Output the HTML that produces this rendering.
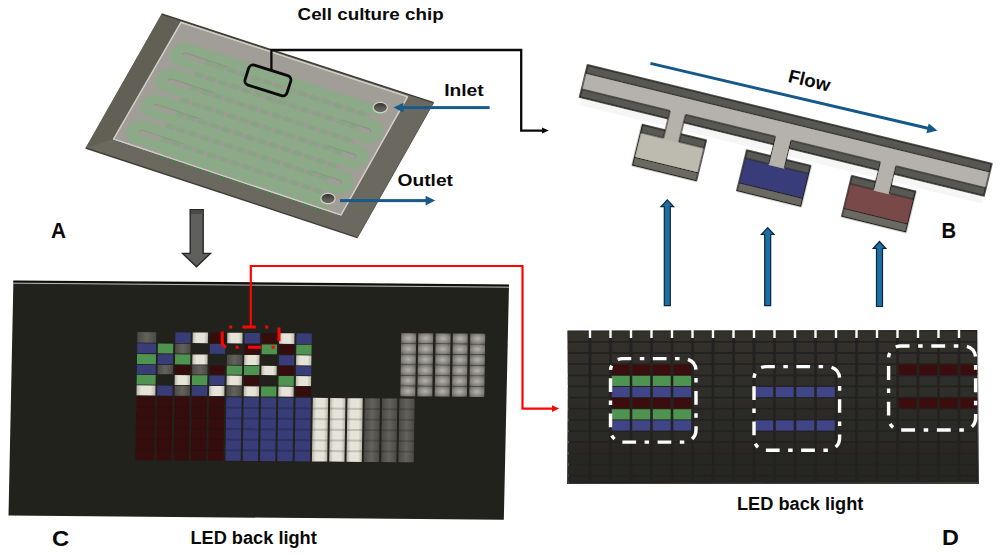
<!DOCTYPE html>
<html><head><meta charset="utf-8"><title>Figure</title>
<style>
html,body{margin:0;padding:0;background:#fff;}
body{width:1000px;height:555px;overflow:hidden;font-family:"Liberation Sans",sans-serif;}
svg{display:block}
text{font-family:"Liberation Sans",sans-serif;font-weight:bold;fill:#0a0a0a}
</style></head><body>
<svg width="1000" height="555" viewBox="0 0 1000 555">
<defs>
<filter id="soft" x="-5%" y="-5%" width="110%" height="110%"><feGaussianBlur stdDeviation="0.45"/></filter>
<filter id="soft2" x="-5%" y="-5%" width="110%" height="110%"><feGaussianBlur stdDeviation="0.7"/></filter>
<linearGradient id="gw" x1="0" y1="0" x2="1" y2="0"><stop offset="0" stop-color="#b9b6aa"/><stop offset="0.25" stop-color="#e6e3d8"/><stop offset="0.75" stop-color="#e6e3d8"/><stop offset="1" stop-color="#b9b6aa"/></linearGradient>
<linearGradient id="gg" x1="0" y1="0" x2="1" y2="0"><stop offset="0" stop-color="#4b4a46"/><stop offset="0.5" stop-color="#63625d"/><stop offset="1" stop-color="#4b4a46"/></linearGradient>
<radialGradient id="gs" cx="0.5" cy="0.5" r="0.75"><stop offset="0" stop-color="#b6b4ab"/><stop offset="0.55" stop-color="#86847e"/><stop offset="1" stop-color="#504f4b"/></radialGradient>
<linearGradient id="hole" x1="0" y1="0" x2="0" y2="1"><stop offset="0" stop-color="#2f2f2d"/><stop offset="0.45" stop-color="#55544f"/><stop offset="1" stop-color="#6b6a65"/></linearGradient>
<linearGradient id="dfade" x1="0" y1="0" x2="0" y2="1"><stop offset="0" stop-color="#242321" stop-opacity="0"/><stop offset="0.35" stop-color="#242321" stop-opacity="0.15"/><stop offset="0.75" stop-color="#242321" stop-opacity="0.6"/><stop offset="1" stop-color="#242321" stop-opacity="0.9"/></linearGradient>
</defs>
<rect width="1000" height="555" fill="#ffffff"/>

<g id="panelA" filter="url(#soft)">
<polygon points="161.6,14 433.6,102.6 357.4,237.6 85.6,148" fill="#6b685f"/>
<polygon points="161.6,14 181,22.4 113.6,139 85.6,148" fill="#625f55"/>
<polyline points="161.6,14 433.6,102.6" fill="none" stroke="#3e3c36" stroke-width="1.4"/>
<polyline points="85.6,148 357.4,237.6" fill="none" stroke="#403e38" stroke-width="1.4"/>
<polyline points="357.4,237.6 433.6,102.6" fill="none" stroke="#55524a" stroke-width="1"/>
<polygon points="181,22.4 407.6,96.6 341,215 113.6,139" fill="#a19d97" stroke="#d0cdc6" stroke-width="1.2" stroke-linejoin="round"/>
<g transform="matrix(0.9510 0.3143 -0.4952 0.8684 181 22.4)">
<path d="M 219 23.00 L 18.50 23.00 A 7.40 7.40 0 0 0 18.50 37.80 L 222.00 37.80 A 7.40 7.40 0 0 1 222.00 52.60 L 18.50 52.60 A 7.40 7.40 0 0 0 18.50 67.40 L 222.00 67.40 A 7.40 7.40 0 0 1 222.00 82.20 L 18.50 82.20 A 7.40 7.40 0 0 0 18.50 97.00 L 222.00 97.00 A 7.40 7.40 0 0 1 222.00 111.80 L 18.50 111.80 A 7.40 7.40 0 0 0 18.50 126.60 L 219.00 126.60 " fill="none" stroke="#8caa88" stroke-width="10.6" stroke-linecap="round" stroke-linejoin="round"/>
<line x1="40.50" y1="30.40" x2="214.00" y2="30.40" stroke="#a19897" stroke-width="3.2"/>
<line x1="40.50" y1="30.40" x2="214.00" y2="30.40" stroke="#87a583" stroke-width="5" stroke-dasharray="8.4 4"/>
<line x1="20.00" y1="30.40" x2="40.50" y2="30.40" stroke="#a39a99" stroke-width="3.6" stroke-linecap="round"/>
<path d="M 17.90 30.90 A 2.4 2.4 0 0 1 20.50 28.10 L 64.50 28.10" fill="none" stroke="#7f9c7a" stroke-width="1"/>
<line x1="38.50" y1="45.20" x2="210.00" y2="45.20" stroke="#a19897" stroke-width="3.2"/>
<line x1="38.50" y1="45.20" x2="210.00" y2="45.20" stroke="#87a583" stroke-width="5" stroke-dasharray="8.4 4"/>
<line x1="210.00" y1="45.20" x2="220.50" y2="45.20" stroke="#a39a99" stroke-width="3.6" stroke-linecap="round"/>
<path d="M 222.60 45.70 A 2.4 2.4 0 0 0 220.00 42.90 L 192.00 42.90" fill="none" stroke="#7f9c7a" stroke-width="1"/>
<line x1="40.50" y1="60.00" x2="214.00" y2="60.00" stroke="#a19897" stroke-width="3.2"/>
<line x1="40.50" y1="60.00" x2="214.00" y2="60.00" stroke="#87a583" stroke-width="5" stroke-dasharray="8.4 4"/>
<line x1="20.00" y1="60.00" x2="40.50" y2="60.00" stroke="#a39a99" stroke-width="3.6" stroke-linecap="round"/>
<path d="M 17.90 60.50 A 2.4 2.4 0 0 1 20.50 57.70 L 64.50 57.70" fill="none" stroke="#7f9c7a" stroke-width="1"/>
<line x1="38.50" y1="74.80" x2="210.00" y2="74.80" stroke="#a19897" stroke-width="3.2"/>
<line x1="38.50" y1="74.80" x2="210.00" y2="74.80" stroke="#87a583" stroke-width="5" stroke-dasharray="8.4 4"/>
<line x1="210.00" y1="74.80" x2="220.50" y2="74.80" stroke="#a39a99" stroke-width="3.6" stroke-linecap="round"/>
<path d="M 222.60 75.30 A 2.4 2.4 0 0 0 220.00 72.50 L 192.00 72.50" fill="none" stroke="#7f9c7a" stroke-width="1"/>
<line x1="40.50" y1="89.60" x2="214.00" y2="89.60" stroke="#a19897" stroke-width="3.2"/>
<line x1="40.50" y1="89.60" x2="214.00" y2="89.60" stroke="#87a583" stroke-width="5" stroke-dasharray="8.4 4"/>
<line x1="20.00" y1="89.60" x2="40.50" y2="89.60" stroke="#a39a99" stroke-width="3.6" stroke-linecap="round"/>
<path d="M 17.90 90.10 A 2.4 2.4 0 0 1 20.50 87.30 L 64.50 87.30" fill="none" stroke="#7f9c7a" stroke-width="1"/>
<line x1="38.50" y1="104.40" x2="210.00" y2="104.40" stroke="#a19897" stroke-width="3.2"/>
<line x1="38.50" y1="104.40" x2="210.00" y2="104.40" stroke="#87a583" stroke-width="5" stroke-dasharray="8.4 4"/>
<line x1="210.00" y1="104.40" x2="220.50" y2="104.40" stroke="#a39a99" stroke-width="3.6" stroke-linecap="round"/>
<path d="M 222.60 104.90 A 2.4 2.4 0 0 0 220.00 102.10 L 192.00 102.10" fill="none" stroke="#7f9c7a" stroke-width="1"/>
<line x1="40.50" y1="119.20" x2="214.00" y2="119.20" stroke="#a19897" stroke-width="3.2"/>
<line x1="40.50" y1="119.20" x2="214.00" y2="119.20" stroke="#87a583" stroke-width="5" stroke-dasharray="8.4 4"/>
<line x1="20.00" y1="119.20" x2="40.50" y2="119.20" stroke="#a39a99" stroke-width="3.6" stroke-linecap="round"/>
<path d="M 17.90 119.70 A 2.4 2.4 0 0 1 20.50 116.90 L 64.50 116.90" fill="none" stroke="#7f9c7a" stroke-width="1"/>
<path d="M 40 126.60 L 224 126.60 L 224 135.0 L 52 135.0 Z" fill="#8caa88"/>
<line x1="56" y1="133.4" x2="222" y2="133.4" stroke="#a39a99" stroke-width="2.2" stroke-dasharray="4.2 8.2"/>
<line x1="50" y1="137.2" x2="226" y2="137.2" stroke="#3f8748" stroke-width="1.7" stroke-dasharray="5.4 7"/>
</g>
<polygon points="181,22.4 407.6,96.6 341,215 113.6,139" fill="none" stroke="#d0cdc6" stroke-width="1.2" stroke-linejoin="round"/>
<ellipse cx="380.3" cy="107.7" rx="7.7" ry="5.9" fill="#d3d0c9"/>
<ellipse cx="380.3" cy="107.6" rx="6.5" ry="4.6" fill="url(#hole)"/>
<ellipse cx="328.0" cy="198.7" rx="7.7" ry="5.9" fill="#d3d0c9"/>
<ellipse cx="328.0" cy="198.6" rx="6.5" ry="4.6" fill="url(#hole)"/>
</g>
<g fill="none" stroke="#0a0a0a" stroke-width="2.3">
<rect x="-22" y="-10.5" width="44" height="21" rx="4.5" transform="translate(267.9 80.4) rotate(17.6)" stroke-width="2.8"/>
<polyline points="271.4,70 271.4,50 521.2,50 521.2,130.6 543,130.6"/>
</g>
<polygon points="542,127.6 548.8,130.6 542,133.6" fill="#0a0a0a"/>
<g fill="#185a89" stroke="none">
<rect x="402" y="106.1" width="87.6" height="3"/>
<polygon points="393.6,107.6 403.5,102.8 403.5,112.4"/>
<rect x="340" y="199.1" width="87" height="3"/>
<polygon points="435.2,200.6 425.6,195.8 425.6,205.4"/>
</g>
<g filter="url(#soft)">
<polygon points="190.2,209.8 203.2,209.8 203.2,253.4 210.4,253.4 196.5,266.8 182.6,253.4 190.2,253.4" fill="#5f5f5c" stroke="#262626" stroke-width="1.4"/>
<rect x="190.9" y="210.5" width="11.6" height="3.6" fill="#4a4a48"/>
</g>
<text x="297.6" y="20.3" font-size="17" textLength="146" lengthAdjust="spacingAndGlyphs">Cell culture chip</text>
<text x="444.2" y="96" font-size="17" textLength="39.5" lengthAdjust="spacingAndGlyphs">Inlet</text>
<text x="397.6" y="186" font-size="17" textLength="55.4" lengthAdjust="spacingAndGlyphs">Outlet</text>
<text x="51" y="238" font-size="22" textLength="15" lengthAdjust="spacingAndGlyphs">A</text>
<g id="panelB" filter="url(#soft)" transform="translate(587.6 65) rotate(13.74)">
<rect x="2" y="33" width="414" height="8" fill="#f6f6f6" filter="url(#soft2)"/>
<rect x="0" y="0" width="416" height="33" fill="#595853" stroke="#1e1d19" stroke-width="1.5"/>
<rect x="0.6" y="8.3" width="414.8" height="16.6" fill="#b4b2ab"/>
<line x1="0" y1="8.3" x2="416" y2="8.3" stroke="#1e1d19" stroke-width="1"/>
<rect x="67.5" y="45" width="65.5" height="41.5" fill="#595853" stroke="#1e1d19" stroke-width="1.5"/>
<rect x="68.1" y="53" width="64.3" height="25.5" fill="#bdbbb0"/>
<rect x="68.1" y="78.5" width="64.3" height="7.4" fill="#6b6962"/>
<line x1="67.5" y1="78.5" x2="133.0" y2="78.5" stroke="#1e1d19" stroke-width="1.2"/>
<line x1="67.5" y1="53" x2="133.0" y2="53" stroke="#1e1d19" stroke-width="0.8"/>
<rect x="91.0" y="24" width="16" height="30" fill="#b4b2ab"/>
<line x1="91.0" y1="25" x2="91.0" y2="53" stroke="#1e1d19" stroke-width="1"/>
<line x1="107.0" y1="25" x2="107.0" y2="53" stroke="#1e1d19" stroke-width="1"/>
<rect x="175.0" y="45" width="65.5" height="41.5" fill="#595853" stroke="#1e1d19" stroke-width="1.5"/>
<rect x="175.6" y="53" width="64.3" height="25.5" fill="#393c79"/>
<rect x="175.6" y="78.5" width="64.3" height="7.4" fill="#6b6962"/>
<line x1="175.0" y1="78.5" x2="240.5" y2="78.5" stroke="#1e1d19" stroke-width="1.2"/>
<line x1="175.0" y1="53" x2="240.5" y2="53" stroke="#1e1d19" stroke-width="0.8"/>
<rect x="199.5" y="24" width="16" height="30" fill="#b4b2ab"/>
<line x1="199.5" y1="25" x2="199.5" y2="53" stroke="#1e1d19" stroke-width="1"/>
<line x1="215.5" y1="25" x2="215.5" y2="53" stroke="#1e1d19" stroke-width="1"/>
<rect x="283.0" y="45" width="65.5" height="41.5" fill="#595853" stroke="#1e1d19" stroke-width="1.5"/>
<rect x="283.6" y="53" width="64.3" height="25.5" fill="#794848"/>
<rect x="283.6" y="78.5" width="64.3" height="7.4" fill="#6b6962"/>
<line x1="283.0" y1="78.5" x2="348.5" y2="78.5" stroke="#1e1d19" stroke-width="1.2"/>
<line x1="283.0" y1="53" x2="348.5" y2="53" stroke="#1e1d19" stroke-width="0.8"/>
<rect x="307.5" y="24" width="16" height="30" fill="#b4b2ab"/>
<line x1="307.5" y1="25" x2="307.5" y2="53" stroke="#1e1d19" stroke-width="1"/>
<line x1="323.5" y1="25" x2="323.5" y2="53" stroke="#1e1d19" stroke-width="1"/>
<line x1="0.0" y1="24.9" x2="91.0" y2="24.9" stroke="#1e1d19" stroke-width="1"/>
<line x1="107.0" y1="24.9" x2="199.5" y2="24.9" stroke="#1e1d19" stroke-width="1"/>
<line x1="215.5" y1="24.9" x2="307.5" y2="24.9" stroke="#1e1d19" stroke-width="1"/>
<line x1="323.5" y1="24.9" x2="416.0" y2="24.9" stroke="#1e1d19" stroke-width="1"/>
</g>
<g fill="#14598a">
<line x1="650.4" y1="63.4" x2="929" y2="128.5" stroke="#14598a" stroke-width="3"/>
<polygon points="937.4,130.5 926.4,133.2 928.7,123.4"/>
</g>
<text transform="translate(787.2 81.7) rotate(13.5)" font-size="18.5" textLength="42.5" lengthAdjust="spacingAndGlyphs">Flow</text>
<text x="941.5" y="238" font-size="22" textLength="14.6" lengthAdjust="spacingAndGlyphs">B</text>
<polygon points="667.3,199.9 673.6,206.7 670.3,206.7 670.3,305.7 664.3,305.7 664.3,206.7 661.0,206.7" fill="#1c6fa5" stroke="#0e2538" stroke-width="1.2" stroke-linejoin="miter"/>
<polygon points="767.7,227.7 774.0,234.5 770.7,234.5 770.7,305.7 764.7,305.7 764.7,234.5 761.4,234.5" fill="#1c6fa5" stroke="#0e2538" stroke-width="1.2" stroke-linejoin="miter"/>
<polygon points="879.5,241.5 885.8,248.3 882.5,248.3 882.5,306.5 876.5,306.5 876.5,248.3 873.2,248.3" fill="#1c6fa5" stroke="#0e2538" stroke-width="1.2" stroke-linejoin="miter"/>
<g id="panelC" filter="url(#soft)">
<polygon points="13.4,281 509,285 503.8,519.8 8.5,515.5" fill="#22201d"/>
<polyline points="13.4,281.2 509,285.2" fill="none" stroke="#0c0c0b" stroke-width="1.6"/>
<polyline points="13.6,283.2 509,287.2" fill="none" stroke="#b9b8b4" stroke-width="1"/>
<g transform="matrix(1 0.0085 -0.015 1 5.2 -1.2)">
<rect x="137.2" y="332.0" width="18.9" height="10.6" fill="url(#gg)"/>
<rect x="175.2" y="332.0" width="15.3" height="10.6" fill="#373c78"/>
<rect x="192.5" y="332.0" width="15.3" height="10.6" fill="url(#gw)"/>
<rect x="209.8" y="332.0" width="15.3" height="10.6" fill="#360e0f"/>
<rect x="227.1" y="332.0" width="15.3" height="10.6" fill="url(#gw)"/>
<rect x="244.4" y="332.0" width="15.3" height="10.6" fill="#373c78"/>
<rect x="261.7" y="332.0" width="15.3" height="10.6" fill="#360e0f"/>
<rect x="279.0" y="332.0" width="15.3" height="10.6" fill="url(#gw)"/>
<rect x="296.3" y="332.0" width="15.3" height="10.6" fill="#373c78"/>
<rect x="137.2" y="343.4" width="18.9" height="9.8" fill="#373c78"/>
<rect x="157.9" y="343.4" width="15.3" height="9.8" fill="#4f9351"/>
<rect x="175.2" y="343.4" width="15.3" height="9.8" fill="url(#gg)"/>
<rect x="209.8" y="343.4" width="15.3" height="9.8" fill="#373c78"/>
<rect x="244.4" y="343.4" width="15.3" height="9.8" fill="#360e0f"/>
<rect x="261.7" y="343.4" width="15.3" height="9.8" fill="#4f9351"/>
<rect x="279.0" y="343.4" width="15.3" height="9.8" fill="#360e0f"/>
<rect x="296.3" y="343.4" width="15.3" height="9.8" fill="#4f9351"/>
<rect x="137.2" y="354.0" width="18.9" height="10.0" fill="#4f9351"/>
<rect x="157.9" y="354.0" width="15.3" height="10.0" fill="#373c78"/>
<rect x="175.2" y="354.0" width="15.3" height="10.0" fill="#4f9351"/>
<rect x="192.5" y="354.0" width="15.3" height="10.0" fill="url(#gw)"/>
<rect x="227.1" y="354.0" width="15.3" height="10.0" fill="url(#gg)"/>
<rect x="244.4" y="354.0" width="15.3" height="10.0" fill="url(#gw)"/>
<rect x="279.0" y="354.0" width="15.3" height="10.0" fill="#373c78"/>
<rect x="296.3" y="354.0" width="15.3" height="10.0" fill="url(#gw)"/>
<rect x="137.2" y="364.8" width="18.9" height="9.2" fill="#373c78"/>
<rect x="157.9" y="364.8" width="15.3" height="9.2" fill="url(#gg)"/>
<rect x="175.2" y="364.8" width="15.3" height="9.2" fill="#360e0f"/>
<rect x="192.5" y="364.8" width="15.3" height="9.2" fill="url(#gg)"/>
<rect x="209.8" y="364.8" width="15.3" height="9.2" fill="#360e0f"/>
<rect x="227.1" y="364.8" width="15.3" height="9.2" fill="#4f9351"/>
<rect x="244.4" y="364.8" width="15.3" height="9.2" fill="#4f9351"/>
<rect x="261.7" y="364.8" width="15.3" height="9.2" fill="url(#gw)"/>
<rect x="279.0" y="364.8" width="15.3" height="9.2" fill="#360e0f"/>
<rect x="296.3" y="364.8" width="15.3" height="9.2" fill="#373c78"/>
<rect x="137.2" y="374.8" width="18.9" height="9.8" fill="#4f9351"/>
<rect x="175.2" y="374.8" width="15.3" height="9.8" fill="url(#gw)"/>
<rect x="192.5" y="374.8" width="15.3" height="9.8" fill="#4f9351"/>
<rect x="209.8" y="374.8" width="15.3" height="9.8" fill="#373c78"/>
<rect x="227.1" y="374.8" width="15.3" height="9.8" fill="url(#gw)"/>
<rect x="244.4" y="374.8" width="15.3" height="9.8" fill="#360e0f"/>
<rect x="279.0" y="374.8" width="15.3" height="9.8" fill="#4f9351"/>
<rect x="296.3" y="374.8" width="15.3" height="9.8" fill="url(#gw)"/>
<rect x="137.2" y="385.4" width="18.9" height="10.0" fill="url(#gw)"/>
<rect x="157.9" y="385.4" width="15.3" height="10.0" fill="#373c78"/>
<rect x="175.2" y="385.4" width="15.3" height="10.0" fill="url(#gg)"/>
<rect x="192.5" y="385.4" width="15.3" height="10.0" fill="#373c78"/>
<rect x="209.8" y="385.4" width="15.3" height="10.0" fill="url(#gw)"/>
<rect x="227.1" y="385.4" width="15.3" height="10.0" fill="url(#gg)"/>
<rect x="244.4" y="385.4" width="15.3" height="10.0" fill="url(#gw)"/>
<rect x="261.7" y="385.4" width="15.3" height="10.0" fill="#4f9351"/>
<rect x="279.0" y="385.4" width="15.3" height="10.0" fill="url(#gw)"/>
<rect x="296.3" y="385.4" width="15.3" height="10.0" fill="#360e0f"/>
<rect x="137.2" y="396.4" width="18.9" height="63.6" fill="#360e0f"/>
<line x1="137.2" y1="407.0" x2="156.1" y2="407.0" stroke="#000" stroke-opacity="0.16" stroke-width="2"/>
<line x1="137.2" y1="417.6" x2="156.1" y2="417.6" stroke="#000" stroke-opacity="0.16" stroke-width="2"/>
<line x1="137.2" y1="428.2" x2="156.1" y2="428.2" stroke="#000" stroke-opacity="0.16" stroke-width="2"/>
<line x1="137.2" y1="438.8" x2="156.1" y2="438.8" stroke="#000" stroke-opacity="0.16" stroke-width="2"/>
<line x1="137.2" y1="449.4" x2="156.1" y2="449.4" stroke="#000" stroke-opacity="0.16" stroke-width="2"/>
<rect x="157.9" y="396.4" width="15.3" height="63.6" fill="#360e0f"/>
<line x1="157.9" y1="407.0" x2="173.2" y2="407.0" stroke="#000" stroke-opacity="0.16" stroke-width="2"/>
<line x1="157.9" y1="417.6" x2="173.2" y2="417.6" stroke="#000" stroke-opacity="0.16" stroke-width="2"/>
<line x1="157.9" y1="428.2" x2="173.2" y2="428.2" stroke="#000" stroke-opacity="0.16" stroke-width="2"/>
<line x1="157.9" y1="438.8" x2="173.2" y2="438.8" stroke="#000" stroke-opacity="0.16" stroke-width="2"/>
<line x1="157.9" y1="449.4" x2="173.2" y2="449.4" stroke="#000" stroke-opacity="0.16" stroke-width="2"/>
<rect x="175.2" y="396.4" width="15.3" height="63.6" fill="#360e0f"/>
<line x1="175.2" y1="407.0" x2="190.5" y2="407.0" stroke="#000" stroke-opacity="0.16" stroke-width="2"/>
<line x1="175.2" y1="417.6" x2="190.5" y2="417.6" stroke="#000" stroke-opacity="0.16" stroke-width="2"/>
<line x1="175.2" y1="428.2" x2="190.5" y2="428.2" stroke="#000" stroke-opacity="0.16" stroke-width="2"/>
<line x1="175.2" y1="438.8" x2="190.5" y2="438.8" stroke="#000" stroke-opacity="0.16" stroke-width="2"/>
<line x1="175.2" y1="449.4" x2="190.5" y2="449.4" stroke="#000" stroke-opacity="0.16" stroke-width="2"/>
<rect x="192.5" y="396.4" width="15.3" height="63.6" fill="#360e0f"/>
<line x1="192.5" y1="407.0" x2="207.8" y2="407.0" stroke="#000" stroke-opacity="0.16" stroke-width="2"/>
<line x1="192.5" y1="417.6" x2="207.8" y2="417.6" stroke="#000" stroke-opacity="0.16" stroke-width="2"/>
<line x1="192.5" y1="428.2" x2="207.8" y2="428.2" stroke="#000" stroke-opacity="0.16" stroke-width="2"/>
<line x1="192.5" y1="438.8" x2="207.8" y2="438.8" stroke="#000" stroke-opacity="0.16" stroke-width="2"/>
<line x1="192.5" y1="449.4" x2="207.8" y2="449.4" stroke="#000" stroke-opacity="0.16" stroke-width="2"/>
<rect x="209.8" y="396.4" width="15.3" height="63.6" fill="#360e0f"/>
<line x1="209.8" y1="407.0" x2="225.1" y2="407.0" stroke="#000" stroke-opacity="0.16" stroke-width="2"/>
<line x1="209.8" y1="417.6" x2="225.1" y2="417.6" stroke="#000" stroke-opacity="0.16" stroke-width="2"/>
<line x1="209.8" y1="428.2" x2="225.1" y2="428.2" stroke="#000" stroke-opacity="0.16" stroke-width="2"/>
<line x1="209.8" y1="438.8" x2="225.1" y2="438.8" stroke="#000" stroke-opacity="0.16" stroke-width="2"/>
<line x1="209.8" y1="449.4" x2="225.1" y2="449.4" stroke="#000" stroke-opacity="0.16" stroke-width="2"/>
<rect x="227.1" y="396.4" width="15.3" height="63.6" fill="#373c78"/>
<line x1="227.1" y1="407.0" x2="242.4" y2="407.0" stroke="#000" stroke-opacity="0.16" stroke-width="2"/>
<line x1="227.1" y1="417.6" x2="242.4" y2="417.6" stroke="#000" stroke-opacity="0.16" stroke-width="2"/>
<line x1="227.1" y1="428.2" x2="242.4" y2="428.2" stroke="#000" stroke-opacity="0.16" stroke-width="2"/>
<line x1="227.1" y1="438.8" x2="242.4" y2="438.8" stroke="#000" stroke-opacity="0.16" stroke-width="2"/>
<line x1="227.1" y1="449.4" x2="242.4" y2="449.4" stroke="#000" stroke-opacity="0.16" stroke-width="2"/>
<rect x="244.4" y="396.4" width="15.3" height="63.6" fill="#373c78"/>
<line x1="244.4" y1="407.0" x2="259.7" y2="407.0" stroke="#000" stroke-opacity="0.16" stroke-width="2"/>
<line x1="244.4" y1="417.6" x2="259.7" y2="417.6" stroke="#000" stroke-opacity="0.16" stroke-width="2"/>
<line x1="244.4" y1="428.2" x2="259.7" y2="428.2" stroke="#000" stroke-opacity="0.16" stroke-width="2"/>
<line x1="244.4" y1="438.8" x2="259.7" y2="438.8" stroke="#000" stroke-opacity="0.16" stroke-width="2"/>
<line x1="244.4" y1="449.4" x2="259.7" y2="449.4" stroke="#000" stroke-opacity="0.16" stroke-width="2"/>
<rect x="261.7" y="396.4" width="15.3" height="63.6" fill="#373c78"/>
<line x1="261.7" y1="407.0" x2="277.0" y2="407.0" stroke="#000" stroke-opacity="0.16" stroke-width="2"/>
<line x1="261.7" y1="417.6" x2="277.0" y2="417.6" stroke="#000" stroke-opacity="0.16" stroke-width="2"/>
<line x1="261.7" y1="428.2" x2="277.0" y2="428.2" stroke="#000" stroke-opacity="0.16" stroke-width="2"/>
<line x1="261.7" y1="438.8" x2="277.0" y2="438.8" stroke="#000" stroke-opacity="0.16" stroke-width="2"/>
<line x1="261.7" y1="449.4" x2="277.0" y2="449.4" stroke="#000" stroke-opacity="0.16" stroke-width="2"/>
<rect x="279.0" y="396.4" width="15.3" height="63.6" fill="#373c78"/>
<line x1="279.0" y1="407.0" x2="294.3" y2="407.0" stroke="#000" stroke-opacity="0.16" stroke-width="2"/>
<line x1="279.0" y1="417.6" x2="294.3" y2="417.6" stroke="#000" stroke-opacity="0.16" stroke-width="2"/>
<line x1="279.0" y1="428.2" x2="294.3" y2="428.2" stroke="#000" stroke-opacity="0.16" stroke-width="2"/>
<line x1="279.0" y1="438.8" x2="294.3" y2="438.8" stroke="#000" stroke-opacity="0.16" stroke-width="2"/>
<line x1="279.0" y1="449.4" x2="294.3" y2="449.4" stroke="#000" stroke-opacity="0.16" stroke-width="2"/>
<rect x="296.3" y="396.4" width="15.3" height="63.6" fill="#373c78"/>
<line x1="296.3" y1="407.0" x2="311.6" y2="407.0" stroke="#000" stroke-opacity="0.16" stroke-width="2"/>
<line x1="296.3" y1="417.6" x2="311.6" y2="417.6" stroke="#000" stroke-opacity="0.16" stroke-width="2"/>
<line x1="296.3" y1="428.2" x2="311.6" y2="428.2" stroke="#000" stroke-opacity="0.16" stroke-width="2"/>
<line x1="296.3" y1="438.8" x2="311.6" y2="438.8" stroke="#000" stroke-opacity="0.16" stroke-width="2"/>
<line x1="296.3" y1="449.4" x2="311.6" y2="449.4" stroke="#000" stroke-opacity="0.16" stroke-width="2"/>
<rect x="313.6" y="396.4" width="15.3" height="63.6" fill="url(#gw)"/>
<line x1="313.6" y1="407.0" x2="328.9" y2="407.0" stroke="#000" stroke-opacity="0.16" stroke-width="2"/>
<line x1="313.6" y1="417.6" x2="328.9" y2="417.6" stroke="#000" stroke-opacity="0.16" stroke-width="2"/>
<line x1="313.6" y1="428.2" x2="328.9" y2="428.2" stroke="#000" stroke-opacity="0.16" stroke-width="2"/>
<line x1="313.6" y1="438.8" x2="328.9" y2="438.8" stroke="#000" stroke-opacity="0.16" stroke-width="2"/>
<line x1="313.6" y1="449.4" x2="328.9" y2="449.4" stroke="#000" stroke-opacity="0.16" stroke-width="2"/>
<rect x="330.9" y="396.4" width="15.3" height="63.6" fill="url(#gw)"/>
<line x1="330.9" y1="407.0" x2="346.2" y2="407.0" stroke="#000" stroke-opacity="0.16" stroke-width="2"/>
<line x1="330.9" y1="417.6" x2="346.2" y2="417.6" stroke="#000" stroke-opacity="0.16" stroke-width="2"/>
<line x1="330.9" y1="428.2" x2="346.2" y2="428.2" stroke="#000" stroke-opacity="0.16" stroke-width="2"/>
<line x1="330.9" y1="438.8" x2="346.2" y2="438.8" stroke="#000" stroke-opacity="0.16" stroke-width="2"/>
<line x1="330.9" y1="449.4" x2="346.2" y2="449.4" stroke="#000" stroke-opacity="0.16" stroke-width="2"/>
<rect x="348.2" y="396.4" width="15.3" height="63.6" fill="url(#gw)"/>
<line x1="348.2" y1="407.0" x2="363.5" y2="407.0" stroke="#000" stroke-opacity="0.16" stroke-width="2"/>
<line x1="348.2" y1="417.6" x2="363.5" y2="417.6" stroke="#000" stroke-opacity="0.16" stroke-width="2"/>
<line x1="348.2" y1="428.2" x2="363.5" y2="428.2" stroke="#000" stroke-opacity="0.16" stroke-width="2"/>
<line x1="348.2" y1="438.8" x2="363.5" y2="438.8" stroke="#000" stroke-opacity="0.16" stroke-width="2"/>
<line x1="348.2" y1="449.4" x2="363.5" y2="449.4" stroke="#000" stroke-opacity="0.16" stroke-width="2"/>
<rect x="365.5" y="396.4" width="15.3" height="63.6" fill="url(#gg)"/>
<line x1="365.5" y1="407.0" x2="380.8" y2="407.0" stroke="#000" stroke-opacity="0.16" stroke-width="2"/>
<line x1="365.5" y1="417.6" x2="380.8" y2="417.6" stroke="#000" stroke-opacity="0.16" stroke-width="2"/>
<line x1="365.5" y1="428.2" x2="380.8" y2="428.2" stroke="#000" stroke-opacity="0.16" stroke-width="2"/>
<line x1="365.5" y1="438.8" x2="380.8" y2="438.8" stroke="#000" stroke-opacity="0.16" stroke-width="2"/>
<line x1="365.5" y1="449.4" x2="380.8" y2="449.4" stroke="#000" stroke-opacity="0.16" stroke-width="2"/>
<rect x="382.8" y="396.4" width="15.3" height="63.6" fill="url(#gg)"/>
<line x1="382.8" y1="407.0" x2="398.1" y2="407.0" stroke="#000" stroke-opacity="0.16" stroke-width="2"/>
<line x1="382.8" y1="417.6" x2="398.1" y2="417.6" stroke="#000" stroke-opacity="0.16" stroke-width="2"/>
<line x1="382.8" y1="428.2" x2="398.1" y2="428.2" stroke="#000" stroke-opacity="0.16" stroke-width="2"/>
<line x1="382.8" y1="438.8" x2="398.1" y2="438.8" stroke="#000" stroke-opacity="0.16" stroke-width="2"/>
<line x1="382.8" y1="449.4" x2="398.1" y2="449.4" stroke="#000" stroke-opacity="0.16" stroke-width="2"/>
<rect x="400.1" y="396.4" width="15.3" height="63.6" fill="url(#gg)"/>
<line x1="400.1" y1="407.0" x2="415.4" y2="407.0" stroke="#000" stroke-opacity="0.16" stroke-width="2"/>
<line x1="400.1" y1="417.6" x2="415.4" y2="417.6" stroke="#000" stroke-opacity="0.16" stroke-width="2"/>
<line x1="400.1" y1="428.2" x2="415.4" y2="428.2" stroke="#000" stroke-opacity="0.16" stroke-width="2"/>
<line x1="400.1" y1="438.8" x2="415.4" y2="438.8" stroke="#000" stroke-opacity="0.16" stroke-width="2"/>
<line x1="400.1" y1="449.4" x2="415.4" y2="449.4" stroke="#000" stroke-opacity="0.16" stroke-width="2"/>
<rect x="401.0" y="330.8" width="15" height="10.3" fill="url(#gs)"/>
<rect x="401.0" y="341.4" width="15" height="10.3" fill="url(#gs)"/>
<rect x="401.0" y="352.0" width="15" height="10.3" fill="url(#gs)"/>
<rect x="401.0" y="362.6" width="15" height="10.3" fill="url(#gs)"/>
<rect x="401.0" y="373.2" width="15" height="10.3" fill="url(#gs)"/>
<rect x="401.0" y="383.8" width="15" height="10.3" fill="url(#gs)"/>
<rect x="418.0" y="330.8" width="15" height="10.3" fill="url(#gs)"/>
<rect x="418.0" y="341.4" width="15" height="10.3" fill="url(#gs)"/>
<rect x="418.0" y="352.0" width="15" height="10.3" fill="url(#gs)"/>
<rect x="418.0" y="362.6" width="15" height="10.3" fill="url(#gs)"/>
<rect x="418.0" y="373.2" width="15" height="10.3" fill="url(#gs)"/>
<rect x="418.0" y="383.8" width="15" height="10.3" fill="url(#gs)"/>
<rect x="435.4" y="330.8" width="15" height="10.3" fill="url(#gs)"/>
<rect x="435.4" y="341.4" width="15" height="10.3" fill="url(#gs)"/>
<rect x="435.4" y="352.0" width="15" height="10.3" fill="url(#gs)"/>
<rect x="435.4" y="362.6" width="15" height="10.3" fill="url(#gs)"/>
<rect x="435.4" y="373.2" width="15" height="10.3" fill="url(#gs)"/>
<rect x="435.4" y="383.8" width="15" height="10.3" fill="url(#gs)"/>
<rect x="452.6" y="330.8" width="15" height="10.3" fill="url(#gs)"/>
<rect x="452.6" y="341.4" width="15" height="10.3" fill="url(#gs)"/>
<rect x="452.6" y="352.0" width="15" height="10.3" fill="url(#gs)"/>
<rect x="452.6" y="362.6" width="15" height="10.3" fill="url(#gs)"/>
<rect x="452.6" y="373.2" width="15" height="10.3" fill="url(#gs)"/>
<rect x="452.6" y="383.8" width="15" height="10.3" fill="url(#gs)"/>
<rect x="470.0" y="330.8" width="15" height="10.3" fill="url(#gs)"/>
<rect x="470.0" y="341.4" width="15" height="10.3" fill="url(#gs)"/>
<rect x="470.0" y="352.0" width="15" height="10.3" fill="url(#gs)"/>
<rect x="470.0" y="362.6" width="15" height="10.3" fill="url(#gs)"/>
<rect x="470.0" y="373.2" width="15" height="10.3" fill="url(#gs)"/>
<rect x="470.0" y="383.8" width="15" height="10.3" fill="url(#gs)"/>
</g>
</g>
<g fill="none" stroke="#fb0505" stroke-width="2.2">
<polyline points="250.8,327 250.8,266 522.5,266 522.5,408.6 553,408.6"/>
</g>
<polygon points="552,405.2 559.2,408.6 552,412" fill="#fb0505"/>
<g fill="none" stroke="#fb0505" stroke-width="3">
<path d="M229.2 327 h3 M242.4 327 h13.4 M265.2 327 h3 M279 327.5 v13.5 M271.6 347.2 h3 M248 347.2 h13.2 M235.6 347.2 h3 M222.2 331.5 v10.5 a5 5 0 0 0 4 5"/>
</g>
<text x="52.1" y="545.6" font-size="22" textLength="17.2" lengthAdjust="spacingAndGlyphs">C</text>
<text x="190.4" y="543.6" font-size="17.5" textLength="126.4" lengthAdjust="spacingAndGlyphs">LED back light</text>
<g id="panelD" filter="url(#soft)">
<polygon points="567.4,330.4 977.3,330 978,482 569,483.2" fill="#242321"/>
<rect x="567.90" y="331.60" width="20.80" height="9.35" rx="1" fill="#31302c"/>
<rect x="567.90" y="342.75" width="20.80" height="9.35" rx="1" fill="#31302c"/>
<rect x="567.90" y="353.90" width="20.80" height="9.35" rx="1" fill="#31302c"/>
<rect x="567.90" y="365.05" width="20.80" height="9.35" rx="1" fill="#31302c"/>
<rect x="567.90" y="376.20" width="20.80" height="9.35" rx="1" fill="#31302c"/>
<rect x="567.90" y="387.35" width="20.80" height="9.35" rx="1" fill="#31302c"/>
<rect x="567.90" y="398.50" width="20.80" height="9.35" rx="1" fill="#31302c"/>
<rect x="567.90" y="409.65" width="20.80" height="9.35" rx="1" fill="#31302c"/>
<rect x="567.90" y="420.80" width="20.80" height="9.35" rx="1" fill="#31302c"/>
<rect x="567.90" y="431.95" width="20.80" height="9.35" rx="1" fill="#31302c"/>
<rect x="567.90" y="443.10" width="20.80" height="9.35" rx="1" fill="#31302c"/>
<rect x="567.90" y="454.25" width="20.80" height="9.35" rx="1" fill="#31302c"/>
<rect x="567.90" y="465.40" width="20.80" height="9.35" rx="1" fill="#31302c"/>
<rect x="567.90" y="476.55" width="20.80" height="4.95" rx="1" fill="#31302c"/>
<rect x="591.30" y="331.60" width="17.90" height="9.35" rx="1" fill="#31302c"/>
<rect x="591.30" y="342.75" width="17.90" height="9.35" rx="1" fill="#31302c"/>
<rect x="591.30" y="353.90" width="17.90" height="9.35" rx="1" fill="#31302c"/>
<rect x="591.30" y="365.05" width="17.90" height="9.35" rx="1" fill="#31302c"/>
<rect x="591.30" y="376.20" width="17.90" height="9.35" rx="1" fill="#31302c"/>
<rect x="591.30" y="387.35" width="17.90" height="9.35" rx="1" fill="#31302c"/>
<rect x="591.30" y="398.50" width="17.90" height="9.35" rx="1" fill="#31302c"/>
<rect x="591.30" y="409.65" width="17.90" height="9.35" rx="1" fill="#31302c"/>
<rect x="591.30" y="420.80" width="17.90" height="9.35" rx="1" fill="#31302c"/>
<rect x="591.30" y="431.95" width="17.90" height="9.35" rx="1" fill="#31302c"/>
<rect x="591.30" y="443.10" width="17.90" height="9.35" rx="1" fill="#31302c"/>
<rect x="591.30" y="454.25" width="17.90" height="9.35" rx="1" fill="#31302c"/>
<rect x="591.30" y="465.40" width="17.90" height="9.35" rx="1" fill="#31302c"/>
<rect x="591.30" y="476.55" width="17.90" height="4.95" rx="1" fill="#31302c"/>
<rect x="611.80" y="331.60" width="17.90" height="9.35" rx="1" fill="#31302c"/>
<rect x="611.80" y="342.75" width="17.90" height="9.35" rx="1" fill="#31302c"/>
<rect x="611.80" y="353.90" width="17.90" height="9.35" rx="1" fill="#31302c"/>
<rect x="611.80" y="365.05" width="17.90" height="9.35" rx="1" fill="#31302c"/>
<rect x="611.80" y="376.20" width="17.90" height="9.35" rx="1" fill="#31302c"/>
<rect x="611.80" y="387.35" width="17.90" height="9.35" rx="1" fill="#31302c"/>
<rect x="611.80" y="398.50" width="17.90" height="9.35" rx="1" fill="#31302c"/>
<rect x="611.80" y="409.65" width="17.90" height="9.35" rx="1" fill="#31302c"/>
<rect x="611.80" y="420.80" width="17.90" height="9.35" rx="1" fill="#31302c"/>
<rect x="611.80" y="431.95" width="17.90" height="9.35" rx="1" fill="#31302c"/>
<rect x="611.80" y="443.10" width="17.90" height="9.35" rx="1" fill="#31302c"/>
<rect x="611.80" y="454.25" width="17.90" height="9.35" rx="1" fill="#31302c"/>
<rect x="611.80" y="465.40" width="17.90" height="9.35" rx="1" fill="#31302c"/>
<rect x="611.80" y="476.55" width="17.90" height="4.95" rx="1" fill="#31302c"/>
<rect x="632.30" y="331.60" width="17.90" height="9.35" rx="1" fill="#31302c"/>
<rect x="632.30" y="342.75" width="17.90" height="9.35" rx="1" fill="#31302c"/>
<rect x="632.30" y="353.90" width="17.90" height="9.35" rx="1" fill="#31302c"/>
<rect x="632.30" y="365.05" width="17.90" height="9.35" rx="1" fill="#31302c"/>
<rect x="632.30" y="376.20" width="17.90" height="9.35" rx="1" fill="#31302c"/>
<rect x="632.30" y="387.35" width="17.90" height="9.35" rx="1" fill="#31302c"/>
<rect x="632.30" y="398.50" width="17.90" height="9.35" rx="1" fill="#31302c"/>
<rect x="632.30" y="409.65" width="17.90" height="9.35" rx="1" fill="#31302c"/>
<rect x="632.30" y="420.80" width="17.90" height="9.35" rx="1" fill="#31302c"/>
<rect x="632.30" y="431.95" width="17.90" height="9.35" rx="1" fill="#31302c"/>
<rect x="632.30" y="443.10" width="17.90" height="9.35" rx="1" fill="#31302c"/>
<rect x="632.30" y="454.25" width="17.90" height="9.35" rx="1" fill="#31302c"/>
<rect x="632.30" y="465.40" width="17.90" height="9.35" rx="1" fill="#31302c"/>
<rect x="632.30" y="476.55" width="17.90" height="4.95" rx="1" fill="#31302c"/>
<rect x="652.80" y="331.60" width="17.90" height="9.35" rx="1" fill="#31302c"/>
<rect x="652.80" y="342.75" width="17.90" height="9.35" rx="1" fill="#31302c"/>
<rect x="652.80" y="353.90" width="17.90" height="9.35" rx="1" fill="#31302c"/>
<rect x="652.80" y="365.05" width="17.90" height="9.35" rx="1" fill="#31302c"/>
<rect x="652.80" y="376.20" width="17.90" height="9.35" rx="1" fill="#31302c"/>
<rect x="652.80" y="387.35" width="17.90" height="9.35" rx="1" fill="#31302c"/>
<rect x="652.80" y="398.50" width="17.90" height="9.35" rx="1" fill="#31302c"/>
<rect x="652.80" y="409.65" width="17.90" height="9.35" rx="1" fill="#31302c"/>
<rect x="652.80" y="420.80" width="17.90" height="9.35" rx="1" fill="#31302c"/>
<rect x="652.80" y="431.95" width="17.90" height="9.35" rx="1" fill="#31302c"/>
<rect x="652.80" y="443.10" width="17.90" height="9.35" rx="1" fill="#31302c"/>
<rect x="652.80" y="454.25" width="17.90" height="9.35" rx="1" fill="#31302c"/>
<rect x="652.80" y="465.40" width="17.90" height="9.35" rx="1" fill="#31302c"/>
<rect x="652.80" y="476.55" width="17.90" height="4.95" rx="1" fill="#31302c"/>
<rect x="673.30" y="331.60" width="17.90" height="9.35" rx="1" fill="#31302c"/>
<rect x="673.30" y="342.75" width="17.90" height="9.35" rx="1" fill="#31302c"/>
<rect x="673.30" y="353.90" width="17.90" height="9.35" rx="1" fill="#31302c"/>
<rect x="673.30" y="365.05" width="17.90" height="9.35" rx="1" fill="#31302c"/>
<rect x="673.30" y="376.20" width="17.90" height="9.35" rx="1" fill="#31302c"/>
<rect x="673.30" y="387.35" width="17.90" height="9.35" rx="1" fill="#31302c"/>
<rect x="673.30" y="398.50" width="17.90" height="9.35" rx="1" fill="#31302c"/>
<rect x="673.30" y="409.65" width="17.90" height="9.35" rx="1" fill="#31302c"/>
<rect x="673.30" y="420.80" width="17.90" height="9.35" rx="1" fill="#31302c"/>
<rect x="673.30" y="431.95" width="17.90" height="9.35" rx="1" fill="#31302c"/>
<rect x="673.30" y="443.10" width="17.90" height="9.35" rx="1" fill="#31302c"/>
<rect x="673.30" y="454.25" width="17.90" height="9.35" rx="1" fill="#31302c"/>
<rect x="673.30" y="465.40" width="17.90" height="9.35" rx="1" fill="#31302c"/>
<rect x="673.30" y="476.55" width="17.90" height="4.95" rx="1" fill="#31302c"/>
<rect x="693.80" y="331.60" width="17.90" height="9.35" rx="1" fill="#31302c"/>
<rect x="693.80" y="342.75" width="17.90" height="9.35" rx="1" fill="#31302c"/>
<rect x="693.80" y="353.90" width="17.90" height="9.35" rx="1" fill="#31302c"/>
<rect x="693.80" y="365.05" width="17.90" height="9.35" rx="1" fill="#31302c"/>
<rect x="693.80" y="376.20" width="17.90" height="9.35" rx="1" fill="#31302c"/>
<rect x="693.80" y="387.35" width="17.90" height="9.35" rx="1" fill="#31302c"/>
<rect x="693.80" y="398.50" width="17.90" height="9.35" rx="1" fill="#31302c"/>
<rect x="693.80" y="409.65" width="17.90" height="9.35" rx="1" fill="#31302c"/>
<rect x="693.80" y="420.80" width="17.90" height="9.35" rx="1" fill="#31302c"/>
<rect x="693.80" y="431.95" width="17.90" height="9.35" rx="1" fill="#31302c"/>
<rect x="693.80" y="443.10" width="17.90" height="9.35" rx="1" fill="#31302c"/>
<rect x="693.80" y="454.25" width="17.90" height="9.35" rx="1" fill="#31302c"/>
<rect x="693.80" y="465.40" width="17.90" height="9.35" rx="1" fill="#31302c"/>
<rect x="693.80" y="476.55" width="17.90" height="4.95" rx="1" fill="#31302c"/>
<rect x="714.30" y="331.60" width="17.90" height="9.35" rx="1" fill="#31302c"/>
<rect x="714.30" y="342.75" width="17.90" height="9.35" rx="1" fill="#31302c"/>
<rect x="714.30" y="353.90" width="17.90" height="9.35" rx="1" fill="#31302c"/>
<rect x="714.30" y="365.05" width="17.90" height="9.35" rx="1" fill="#31302c"/>
<rect x="714.30" y="376.20" width="17.90" height="9.35" rx="1" fill="#31302c"/>
<rect x="714.30" y="387.35" width="17.90" height="9.35" rx="1" fill="#31302c"/>
<rect x="714.30" y="398.50" width="17.90" height="9.35" rx="1" fill="#31302c"/>
<rect x="714.30" y="409.65" width="17.90" height="9.35" rx="1" fill="#31302c"/>
<rect x="714.30" y="420.80" width="17.90" height="9.35" rx="1" fill="#31302c"/>
<rect x="714.30" y="431.95" width="17.90" height="9.35" rx="1" fill="#31302c"/>
<rect x="714.30" y="443.10" width="17.90" height="9.35" rx="1" fill="#31302c"/>
<rect x="714.30" y="454.25" width="17.90" height="9.35" rx="1" fill="#31302c"/>
<rect x="714.30" y="465.40" width="17.90" height="9.35" rx="1" fill="#31302c"/>
<rect x="714.30" y="476.55" width="17.90" height="4.95" rx="1" fill="#31302c"/>
<rect x="734.80" y="331.60" width="17.90" height="9.35" rx="1" fill="#31302c"/>
<rect x="734.80" y="342.75" width="17.90" height="9.35" rx="1" fill="#31302c"/>
<rect x="734.80" y="353.90" width="17.90" height="9.35" rx="1" fill="#31302c"/>
<rect x="734.80" y="365.05" width="17.90" height="9.35" rx="1" fill="#31302c"/>
<rect x="734.80" y="376.20" width="17.90" height="9.35" rx="1" fill="#31302c"/>
<rect x="734.80" y="387.35" width="17.90" height="9.35" rx="1" fill="#31302c"/>
<rect x="734.80" y="398.50" width="17.90" height="9.35" rx="1" fill="#31302c"/>
<rect x="734.80" y="409.65" width="17.90" height="9.35" rx="1" fill="#31302c"/>
<rect x="734.80" y="420.80" width="17.90" height="9.35" rx="1" fill="#31302c"/>
<rect x="734.80" y="431.95" width="17.90" height="9.35" rx="1" fill="#31302c"/>
<rect x="734.80" y="443.10" width="17.90" height="9.35" rx="1" fill="#31302c"/>
<rect x="734.80" y="454.25" width="17.90" height="9.35" rx="1" fill="#31302c"/>
<rect x="734.80" y="465.40" width="17.90" height="9.35" rx="1" fill="#31302c"/>
<rect x="734.80" y="476.55" width="17.90" height="4.95" rx="1" fill="#31302c"/>
<rect x="755.30" y="331.60" width="17.90" height="9.35" rx="1" fill="#31302c"/>
<rect x="755.30" y="342.75" width="17.90" height="9.35" rx="1" fill="#31302c"/>
<rect x="755.30" y="353.90" width="17.90" height="9.35" rx="1" fill="#31302c"/>
<rect x="755.30" y="365.05" width="17.90" height="9.35" rx="1" fill="#31302c"/>
<rect x="755.30" y="376.20" width="17.90" height="9.35" rx="1" fill="#31302c"/>
<rect x="755.30" y="387.35" width="17.90" height="9.35" rx="1" fill="#31302c"/>
<rect x="755.30" y="398.50" width="17.90" height="9.35" rx="1" fill="#31302c"/>
<rect x="755.30" y="409.65" width="17.90" height="9.35" rx="1" fill="#31302c"/>
<rect x="755.30" y="420.80" width="17.90" height="9.35" rx="1" fill="#31302c"/>
<rect x="755.30" y="431.95" width="17.90" height="9.35" rx="1" fill="#31302c"/>
<rect x="755.30" y="443.10" width="17.90" height="9.35" rx="1" fill="#31302c"/>
<rect x="755.30" y="454.25" width="17.90" height="9.35" rx="1" fill="#31302c"/>
<rect x="755.30" y="465.40" width="17.90" height="9.35" rx="1" fill="#31302c"/>
<rect x="755.30" y="476.55" width="17.90" height="4.95" rx="1" fill="#31302c"/>
<rect x="775.80" y="331.60" width="17.90" height="9.35" rx="1" fill="#31302c"/>
<rect x="775.80" y="342.75" width="17.90" height="9.35" rx="1" fill="#31302c"/>
<rect x="775.80" y="353.90" width="17.90" height="9.35" rx="1" fill="#31302c"/>
<rect x="775.80" y="365.05" width="17.90" height="9.35" rx="1" fill="#31302c"/>
<rect x="775.80" y="376.20" width="17.90" height="9.35" rx="1" fill="#31302c"/>
<rect x="775.80" y="387.35" width="17.90" height="9.35" rx="1" fill="#31302c"/>
<rect x="775.80" y="398.50" width="17.90" height="9.35" rx="1" fill="#31302c"/>
<rect x="775.80" y="409.65" width="17.90" height="9.35" rx="1" fill="#31302c"/>
<rect x="775.80" y="420.80" width="17.90" height="9.35" rx="1" fill="#31302c"/>
<rect x="775.80" y="431.95" width="17.90" height="9.35" rx="1" fill="#31302c"/>
<rect x="775.80" y="443.10" width="17.90" height="9.35" rx="1" fill="#31302c"/>
<rect x="775.80" y="454.25" width="17.90" height="9.35" rx="1" fill="#31302c"/>
<rect x="775.80" y="465.40" width="17.90" height="9.35" rx="1" fill="#31302c"/>
<rect x="775.80" y="476.55" width="17.90" height="4.95" rx="1" fill="#31302c"/>
<rect x="796.30" y="331.60" width="17.90" height="9.35" rx="1" fill="#31302c"/>
<rect x="796.30" y="342.75" width="17.90" height="9.35" rx="1" fill="#31302c"/>
<rect x="796.30" y="353.90" width="17.90" height="9.35" rx="1" fill="#31302c"/>
<rect x="796.30" y="365.05" width="17.90" height="9.35" rx="1" fill="#31302c"/>
<rect x="796.30" y="376.20" width="17.90" height="9.35" rx="1" fill="#31302c"/>
<rect x="796.30" y="387.35" width="17.90" height="9.35" rx="1" fill="#31302c"/>
<rect x="796.30" y="398.50" width="17.90" height="9.35" rx="1" fill="#31302c"/>
<rect x="796.30" y="409.65" width="17.90" height="9.35" rx="1" fill="#31302c"/>
<rect x="796.30" y="420.80" width="17.90" height="9.35" rx="1" fill="#31302c"/>
<rect x="796.30" y="431.95" width="17.90" height="9.35" rx="1" fill="#31302c"/>
<rect x="796.30" y="443.10" width="17.90" height="9.35" rx="1" fill="#31302c"/>
<rect x="796.30" y="454.25" width="17.90" height="9.35" rx="1" fill="#31302c"/>
<rect x="796.30" y="465.40" width="17.90" height="9.35" rx="1" fill="#31302c"/>
<rect x="796.30" y="476.55" width="17.90" height="4.95" rx="1" fill="#31302c"/>
<rect x="816.80" y="331.60" width="17.90" height="9.35" rx="1" fill="#31302c"/>
<rect x="816.80" y="342.75" width="17.90" height="9.35" rx="1" fill="#31302c"/>
<rect x="816.80" y="353.90" width="17.90" height="9.35" rx="1" fill="#31302c"/>
<rect x="816.80" y="365.05" width="17.90" height="9.35" rx="1" fill="#31302c"/>
<rect x="816.80" y="376.20" width="17.90" height="9.35" rx="1" fill="#31302c"/>
<rect x="816.80" y="387.35" width="17.90" height="9.35" rx="1" fill="#31302c"/>
<rect x="816.80" y="398.50" width="17.90" height="9.35" rx="1" fill="#31302c"/>
<rect x="816.80" y="409.65" width="17.90" height="9.35" rx="1" fill="#31302c"/>
<rect x="816.80" y="420.80" width="17.90" height="9.35" rx="1" fill="#31302c"/>
<rect x="816.80" y="431.95" width="17.90" height="9.35" rx="1" fill="#31302c"/>
<rect x="816.80" y="443.10" width="17.90" height="9.35" rx="1" fill="#31302c"/>
<rect x="816.80" y="454.25" width="17.90" height="9.35" rx="1" fill="#31302c"/>
<rect x="816.80" y="465.40" width="17.90" height="9.35" rx="1" fill="#31302c"/>
<rect x="816.80" y="476.55" width="17.90" height="4.95" rx="1" fill="#31302c"/>
<rect x="837.30" y="331.60" width="17.90" height="9.35" rx="1" fill="#31302c"/>
<rect x="837.30" y="342.75" width="17.90" height="9.35" rx="1" fill="#31302c"/>
<rect x="837.30" y="353.90" width="17.90" height="9.35" rx="1" fill="#31302c"/>
<rect x="837.30" y="365.05" width="17.90" height="9.35" rx="1" fill="#31302c"/>
<rect x="837.30" y="376.20" width="17.90" height="9.35" rx="1" fill="#31302c"/>
<rect x="837.30" y="387.35" width="17.90" height="9.35" rx="1" fill="#31302c"/>
<rect x="837.30" y="398.50" width="17.90" height="9.35" rx="1" fill="#31302c"/>
<rect x="837.30" y="409.65" width="17.90" height="9.35" rx="1" fill="#31302c"/>
<rect x="837.30" y="420.80" width="17.90" height="9.35" rx="1" fill="#31302c"/>
<rect x="837.30" y="431.95" width="17.90" height="9.35" rx="1" fill="#31302c"/>
<rect x="837.30" y="443.10" width="17.90" height="9.35" rx="1" fill="#31302c"/>
<rect x="837.30" y="454.25" width="17.90" height="9.35" rx="1" fill="#31302c"/>
<rect x="837.30" y="465.40" width="17.90" height="9.35" rx="1" fill="#31302c"/>
<rect x="837.30" y="476.55" width="17.90" height="4.95" rx="1" fill="#31302c"/>
<rect x="857.80" y="331.60" width="17.90" height="9.35" rx="1" fill="#31302c"/>
<rect x="857.80" y="342.75" width="17.90" height="9.35" rx="1" fill="#31302c"/>
<rect x="857.80" y="353.90" width="17.90" height="9.35" rx="1" fill="#31302c"/>
<rect x="857.80" y="365.05" width="17.90" height="9.35" rx="1" fill="#31302c"/>
<rect x="857.80" y="376.20" width="17.90" height="9.35" rx="1" fill="#31302c"/>
<rect x="857.80" y="387.35" width="17.90" height="9.35" rx="1" fill="#31302c"/>
<rect x="857.80" y="398.50" width="17.90" height="9.35" rx="1" fill="#31302c"/>
<rect x="857.80" y="409.65" width="17.90" height="9.35" rx="1" fill="#31302c"/>
<rect x="857.80" y="420.80" width="17.90" height="9.35" rx="1" fill="#31302c"/>
<rect x="857.80" y="431.95" width="17.90" height="9.35" rx="1" fill="#31302c"/>
<rect x="857.80" y="443.10" width="17.90" height="9.35" rx="1" fill="#31302c"/>
<rect x="857.80" y="454.25" width="17.90" height="9.35" rx="1" fill="#31302c"/>
<rect x="857.80" y="465.40" width="17.90" height="9.35" rx="1" fill="#31302c"/>
<rect x="857.80" y="476.55" width="17.90" height="4.95" rx="1" fill="#31302c"/>
<rect x="878.30" y="331.60" width="17.90" height="9.35" rx="1" fill="#31302c"/>
<rect x="878.30" y="342.75" width="17.90" height="9.35" rx="1" fill="#31302c"/>
<rect x="878.30" y="353.90" width="17.90" height="9.35" rx="1" fill="#31302c"/>
<rect x="878.30" y="365.05" width="17.90" height="9.35" rx="1" fill="#31302c"/>
<rect x="878.30" y="376.20" width="17.90" height="9.35" rx="1" fill="#31302c"/>
<rect x="878.30" y="387.35" width="17.90" height="9.35" rx="1" fill="#31302c"/>
<rect x="878.30" y="398.50" width="17.90" height="9.35" rx="1" fill="#31302c"/>
<rect x="878.30" y="409.65" width="17.90" height="9.35" rx="1" fill="#31302c"/>
<rect x="878.30" y="420.80" width="17.90" height="9.35" rx="1" fill="#31302c"/>
<rect x="878.30" y="431.95" width="17.90" height="9.35" rx="1" fill="#31302c"/>
<rect x="878.30" y="443.10" width="17.90" height="9.35" rx="1" fill="#31302c"/>
<rect x="878.30" y="454.25" width="17.90" height="9.35" rx="1" fill="#31302c"/>
<rect x="878.30" y="465.40" width="17.90" height="9.35" rx="1" fill="#31302c"/>
<rect x="878.30" y="476.55" width="17.90" height="4.95" rx="1" fill="#31302c"/>
<rect x="898.80" y="331.60" width="17.90" height="9.35" rx="1" fill="#31302c"/>
<rect x="898.80" y="342.75" width="17.90" height="9.35" rx="1" fill="#31302c"/>
<rect x="898.80" y="353.90" width="17.90" height="9.35" rx="1" fill="#31302c"/>
<rect x="898.80" y="365.05" width="17.90" height="9.35" rx="1" fill="#31302c"/>
<rect x="898.80" y="376.20" width="17.90" height="9.35" rx="1" fill="#31302c"/>
<rect x="898.80" y="387.35" width="17.90" height="9.35" rx="1" fill="#31302c"/>
<rect x="898.80" y="398.50" width="17.90" height="9.35" rx="1" fill="#31302c"/>
<rect x="898.80" y="409.65" width="17.90" height="9.35" rx="1" fill="#31302c"/>
<rect x="898.80" y="420.80" width="17.90" height="9.35" rx="1" fill="#31302c"/>
<rect x="898.80" y="431.95" width="17.90" height="9.35" rx="1" fill="#31302c"/>
<rect x="898.80" y="443.10" width="17.90" height="9.35" rx="1" fill="#31302c"/>
<rect x="898.80" y="454.25" width="17.90" height="9.35" rx="1" fill="#31302c"/>
<rect x="898.80" y="465.40" width="17.90" height="9.35" rx="1" fill="#31302c"/>
<rect x="898.80" y="476.55" width="17.90" height="4.95" rx="1" fill="#31302c"/>
<rect x="919.30" y="331.60" width="17.90" height="9.35" rx="1" fill="#31302c"/>
<rect x="919.30" y="342.75" width="17.90" height="9.35" rx="1" fill="#31302c"/>
<rect x="919.30" y="353.90" width="17.90" height="9.35" rx="1" fill="#31302c"/>
<rect x="919.30" y="365.05" width="17.90" height="9.35" rx="1" fill="#31302c"/>
<rect x="919.30" y="376.20" width="17.90" height="9.35" rx="1" fill="#31302c"/>
<rect x="919.30" y="387.35" width="17.90" height="9.35" rx="1" fill="#31302c"/>
<rect x="919.30" y="398.50" width="17.90" height="9.35" rx="1" fill="#31302c"/>
<rect x="919.30" y="409.65" width="17.90" height="9.35" rx="1" fill="#31302c"/>
<rect x="919.30" y="420.80" width="17.90" height="9.35" rx="1" fill="#31302c"/>
<rect x="919.30" y="431.95" width="17.90" height="9.35" rx="1" fill="#31302c"/>
<rect x="919.30" y="443.10" width="17.90" height="9.35" rx="1" fill="#31302c"/>
<rect x="919.30" y="454.25" width="17.90" height="9.35" rx="1" fill="#31302c"/>
<rect x="919.30" y="465.40" width="17.90" height="9.35" rx="1" fill="#31302c"/>
<rect x="919.30" y="476.55" width="17.90" height="4.95" rx="1" fill="#31302c"/>
<rect x="939.80" y="331.60" width="17.90" height="9.35" rx="1" fill="#31302c"/>
<rect x="939.80" y="342.75" width="17.90" height="9.35" rx="1" fill="#31302c"/>
<rect x="939.80" y="353.90" width="17.90" height="9.35" rx="1" fill="#31302c"/>
<rect x="939.80" y="365.05" width="17.90" height="9.35" rx="1" fill="#31302c"/>
<rect x="939.80" y="376.20" width="17.90" height="9.35" rx="1" fill="#31302c"/>
<rect x="939.80" y="387.35" width="17.90" height="9.35" rx="1" fill="#31302c"/>
<rect x="939.80" y="398.50" width="17.90" height="9.35" rx="1" fill="#31302c"/>
<rect x="939.80" y="409.65" width="17.90" height="9.35" rx="1" fill="#31302c"/>
<rect x="939.80" y="420.80" width="17.90" height="9.35" rx="1" fill="#31302c"/>
<rect x="939.80" y="431.95" width="17.90" height="9.35" rx="1" fill="#31302c"/>
<rect x="939.80" y="443.10" width="17.90" height="9.35" rx="1" fill="#31302c"/>
<rect x="939.80" y="454.25" width="17.90" height="9.35" rx="1" fill="#31302c"/>
<rect x="939.80" y="465.40" width="17.90" height="9.35" rx="1" fill="#31302c"/>
<rect x="939.80" y="476.55" width="17.90" height="4.95" rx="1" fill="#31302c"/>
<rect x="960.30" y="331.60" width="16.00" height="9.35" rx="1" fill="#31302c"/>
<rect x="960.30" y="342.75" width="16.00" height="9.35" rx="1" fill="#31302c"/>
<rect x="960.30" y="353.90" width="16.00" height="9.35" rx="1" fill="#31302c"/>
<rect x="960.30" y="365.05" width="16.00" height="9.35" rx="1" fill="#31302c"/>
<rect x="960.30" y="376.20" width="16.00" height="9.35" rx="1" fill="#31302c"/>
<rect x="960.30" y="387.35" width="16.00" height="9.35" rx="1" fill="#31302c"/>
<rect x="960.30" y="398.50" width="16.00" height="9.35" rx="1" fill="#31302c"/>
<rect x="960.30" y="409.65" width="16.00" height="9.35" rx="1" fill="#31302c"/>
<rect x="960.30" y="420.80" width="16.00" height="9.35" rx="1" fill="#31302c"/>
<rect x="960.30" y="431.95" width="16.00" height="9.35" rx="1" fill="#31302c"/>
<rect x="960.30" y="443.10" width="16.00" height="9.35" rx="1" fill="#31302c"/>
<rect x="960.30" y="454.25" width="16.00" height="9.35" rx="1" fill="#31302c"/>
<rect x="960.30" y="465.40" width="16.00" height="9.35" rx="1" fill="#31302c"/>
<rect x="960.30" y="476.55" width="16.00" height="4.95" rx="1" fill="#31302c"/>
<rect x="567" y="330" width="412" height="154" fill="url(#dfade)"/>
<rect x="588.80" y="329" width="2.4" height="9" fill="#fff"/>
<rect x="609.30" y="329" width="2.4" height="9" fill="#fff"/>
<rect x="629.80" y="329" width="2.4" height="9" fill="#fff"/>
<rect x="650.30" y="329" width="2.4" height="9" fill="#fff"/>
<rect x="670.80" y="329" width="2.4" height="9" fill="#fff"/>
<rect x="691.30" y="329" width="2.4" height="9" fill="#fff"/>
<rect x="711.80" y="329" width="2.4" height="9" fill="#fff"/>
<rect x="732.30" y="329" width="2.4" height="9" fill="#fff"/>
<rect x="752.80" y="329" width="2.4" height="9" fill="#fff"/>
<rect x="773.30" y="329" width="2.4" height="9" fill="#fff"/>
<rect x="793.80" y="329" width="2.4" height="9" fill="#fff"/>
<rect x="814.30" y="329" width="2.4" height="9" fill="#fff"/>
<rect x="834.80" y="329" width="2.4" height="9" fill="#fff"/>
<rect x="855.30" y="329" width="2.4" height="9" fill="#fff"/>
<rect x="875.80" y="329" width="2.4" height="9" fill="#fff"/>
<rect x="896.30" y="329" width="2.4" height="9" fill="#fff"/>
<rect x="916.80" y="329" width="2.4" height="9" fill="#fff"/>
<rect x="937.30" y="329" width="2.4" height="9" fill="#fff"/>
<rect x="957.80" y="329" width="2.4" height="9" fill="#fff"/>
<rect x="611.80" y="364.65" width="17.90" height="10.15" fill="#3a0c0e"/>
<rect x="632.30" y="364.65" width="17.90" height="10.15" fill="#3a0c0e"/>
<rect x="652.80" y="364.65" width="17.90" height="10.15" fill="#3a0c0e"/>
<rect x="673.30" y="364.65" width="17.90" height="10.15" fill="#3a0c0e"/>
<rect x="611.80" y="375.80" width="17.90" height="10.15" fill="#4f9351"/>
<rect x="632.30" y="375.80" width="17.90" height="10.15" fill="#4f9351"/>
<rect x="652.80" y="375.80" width="17.90" height="10.15" fill="#4f9351"/>
<rect x="673.30" y="375.80" width="17.90" height="10.15" fill="#4f9351"/>
<rect x="611.80" y="386.95" width="17.90" height="10.15" fill="#3f4488"/>
<rect x="632.30" y="386.95" width="17.90" height="10.15" fill="#3f4488"/>
<rect x="652.80" y="386.95" width="17.90" height="10.15" fill="#3f4488"/>
<rect x="673.30" y="386.95" width="17.90" height="10.15" fill="#3f4488"/>
<rect x="611.80" y="398.10" width="17.90" height="10.15" fill="#3a0c0e"/>
<rect x="632.30" y="398.10" width="17.90" height="10.15" fill="#3a0c0e"/>
<rect x="652.80" y="398.10" width="17.90" height="10.15" fill="#3a0c0e"/>
<rect x="673.30" y="398.10" width="17.90" height="10.15" fill="#3a0c0e"/>
<rect x="611.80" y="409.25" width="17.90" height="10.15" fill="#4f9351"/>
<rect x="632.30" y="409.25" width="17.90" height="10.15" fill="#4f9351"/>
<rect x="652.80" y="409.25" width="17.90" height="10.15" fill="#4f9351"/>
<rect x="673.30" y="409.25" width="17.90" height="10.15" fill="#4f9351"/>
<rect x="611.80" y="420.40" width="17.90" height="10.15" fill="#3f4488"/>
<rect x="632.30" y="420.40" width="17.90" height="10.15" fill="#3f4488"/>
<rect x="652.80" y="420.40" width="17.90" height="10.15" fill="#3f4488"/>
<rect x="673.30" y="420.40" width="17.90" height="10.15" fill="#3f4488"/>
<rect x="755.30" y="386.95" width="17.90" height="10.15" fill="#3f4488"/>
<rect x="775.80" y="386.95" width="17.90" height="10.15" fill="#3f4488"/>
<rect x="796.30" y="386.95" width="17.90" height="10.15" fill="#3f4488"/>
<rect x="816.80" y="386.95" width="17.90" height="10.15" fill="#3f4488"/>
<rect x="755.30" y="420.40" width="17.90" height="10.15" fill="#3f4488"/>
<rect x="775.80" y="420.40" width="17.90" height="10.15" fill="#3f4488"/>
<rect x="796.30" y="420.40" width="17.90" height="10.15" fill="#3f4488"/>
<rect x="816.80" y="420.40" width="17.90" height="10.15" fill="#3f4488"/>
<rect x="898.80" y="364.65" width="17.90" height="10.15" fill="#3a0c0e"/>
<rect x="919.30" y="364.65" width="17.90" height="10.15" fill="#3a0c0e"/>
<rect x="939.80" y="364.65" width="17.90" height="10.15" fill="#3a0c0e"/>
<rect x="960.30" y="364.65" width="17.00" height="10.15" fill="#3a0c0e"/>
<rect x="898.80" y="398.10" width="17.90" height="10.15" fill="#3a0c0e"/>
<rect x="919.30" y="398.10" width="17.90" height="10.15" fill="#3a0c0e"/>
<rect x="939.80" y="398.10" width="17.90" height="10.15" fill="#3a0c0e"/>
<rect x="960.30" y="398.10" width="17.00" height="10.15" fill="#3a0c0e"/>
</g>
<rect x="610.5" y="358.6" width="85.5" height="83.5" rx="12" fill="none" stroke="#fff" stroke-width="3.4" pathLength="324" stroke-dasharray="14 8.7 4.6 8.7" stroke-dashoffset="5"/>
<rect x="754.0" y="366.6" width="85.6" height="83.6" rx="12" fill="none" stroke="#fff" stroke-width="3.4" pathLength="324" stroke-dasharray="14 8.7 4.6 8.7" stroke-dashoffset="5"/>
<rect x="888.6" y="346.0" width="87.0" height="84.0" rx="12" fill="none" stroke="#fff" stroke-width="3.4" pathLength="324" stroke-dasharray="14 8.7 4.6 8.7" stroke-dashoffset="5"/>
<text x="737" y="509.6" font-size="17.5" textLength="126.4" lengthAdjust="spacingAndGlyphs">LED back light</text>
<text x="941.9" y="545.2" font-size="22" textLength="16.9" lengthAdjust="spacingAndGlyphs">D</text>
</svg></body></html>
